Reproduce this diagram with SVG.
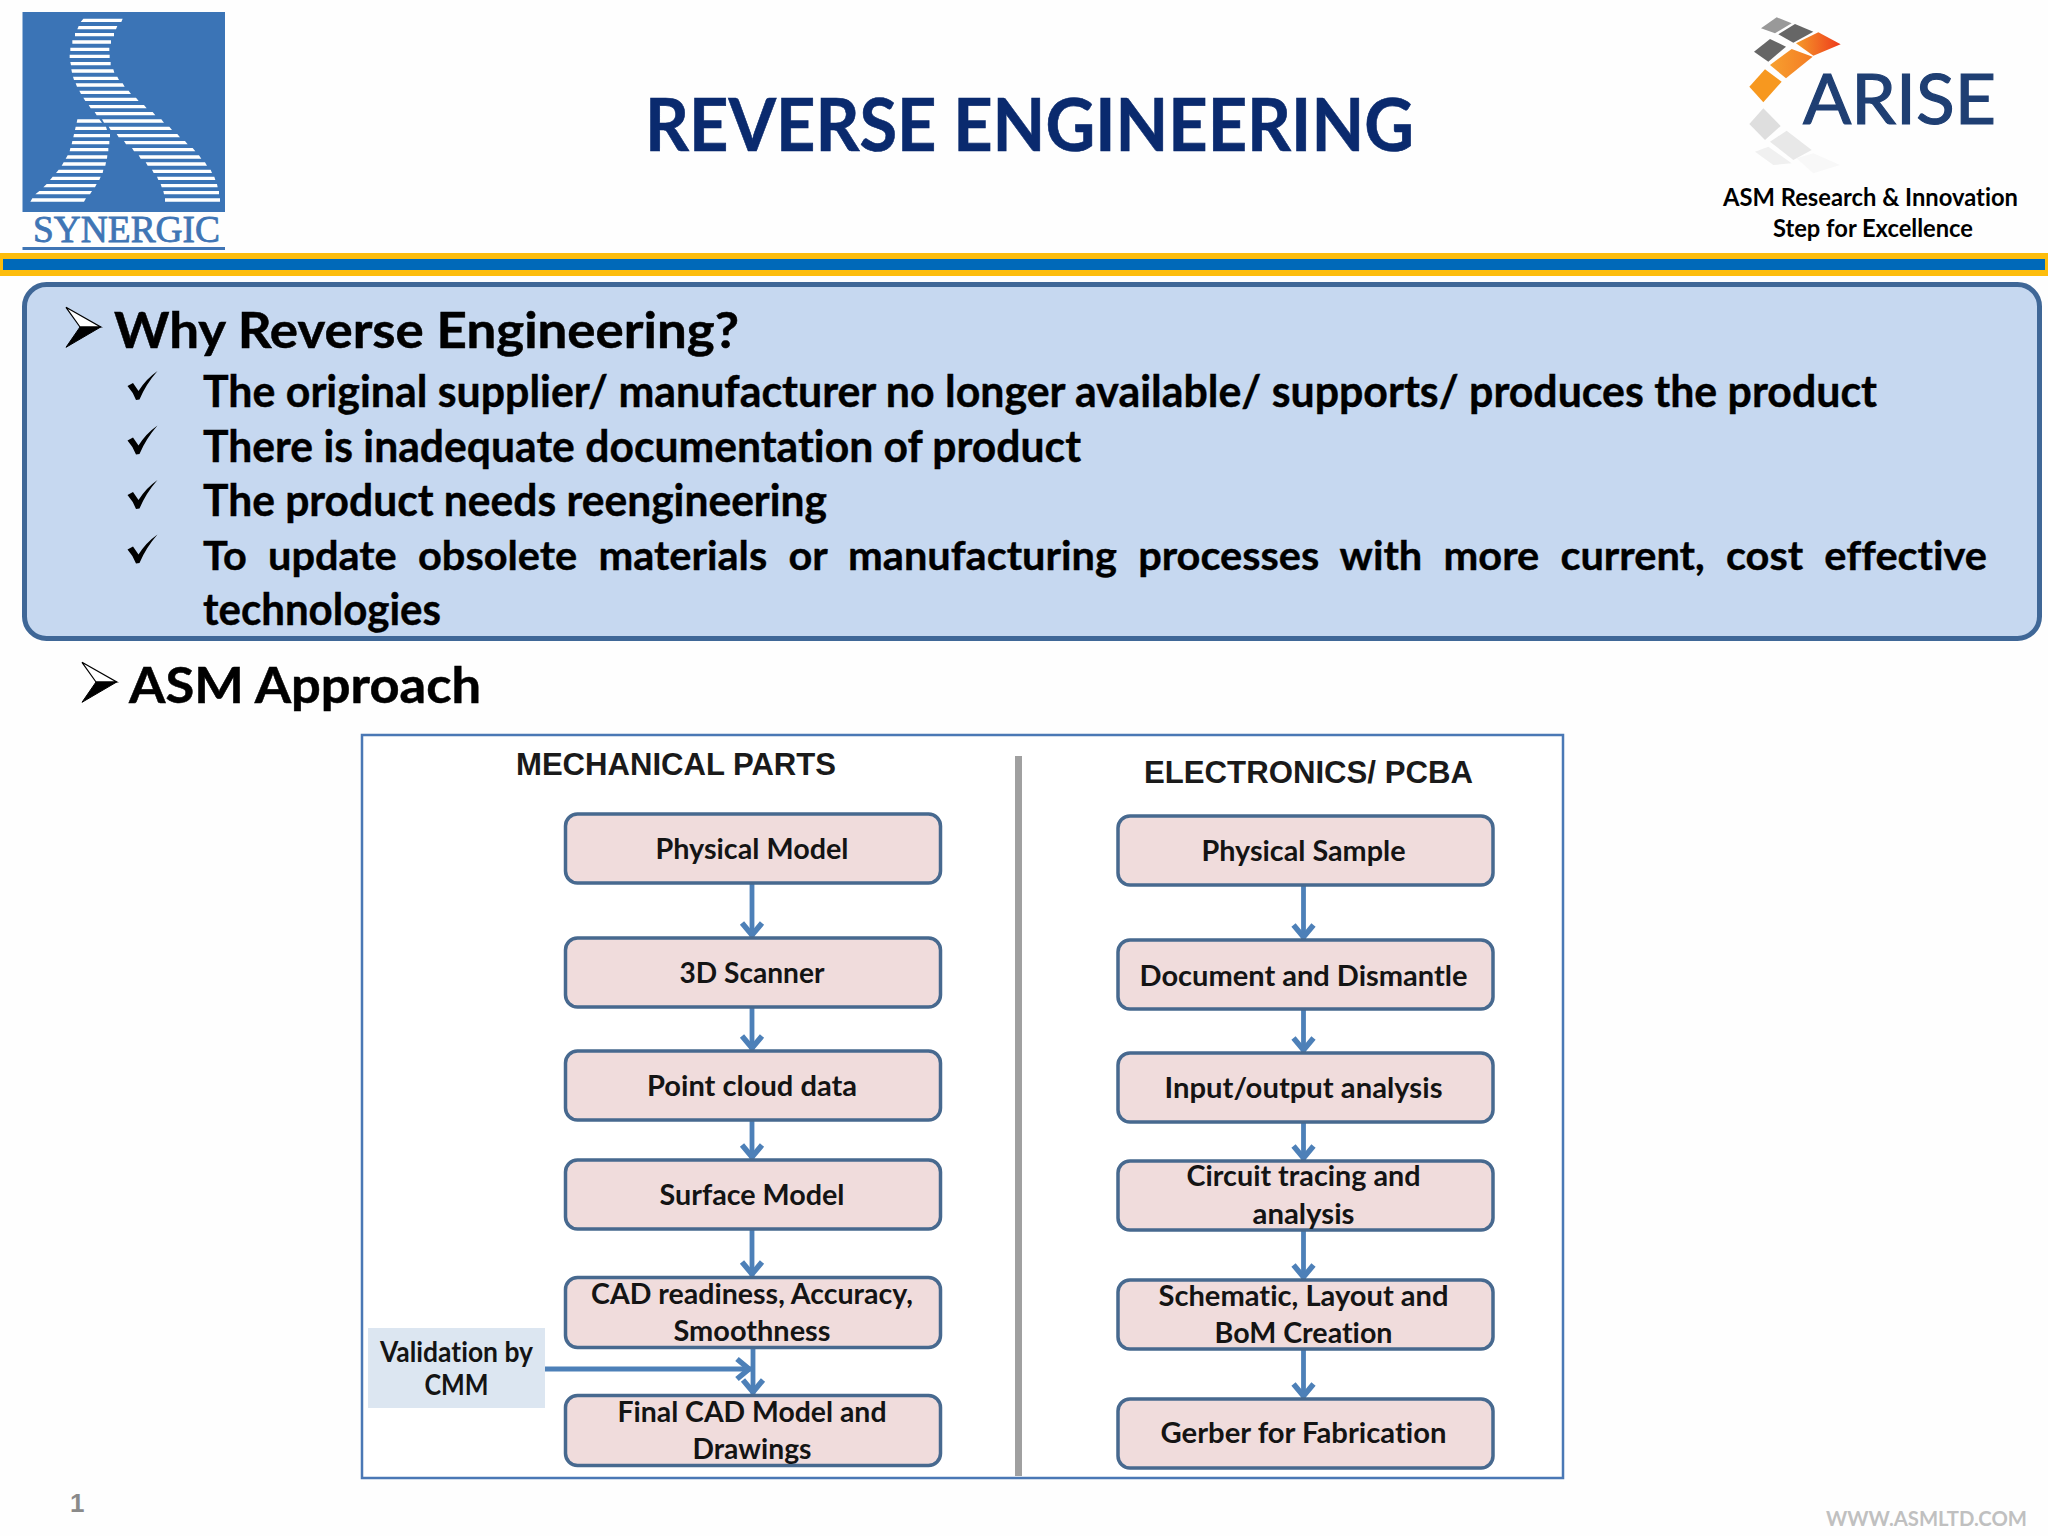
<svg xmlns="http://www.w3.org/2000/svg" width="2048" height="1536" viewBox="0 0 2048 1536">
<style>
text{font-family:Lato,"Liberation Sans",sans-serif;fill:#0d0d0d;font-variant-ligatures:none}
.h{font-weight:700;font-size:50px;fill:#000;stroke:#000;stroke-width:.5}
.b{font-weight:700;font-size:43px;fill:#000;stroke:#000;stroke-width:.4}
.n{font-weight:700;font-size:29px;text-anchor:middle;fill:#141414}
.s{font-weight:700;font-size:25px;text-anchor:middle;fill:#000}
.m{font-family:"Liberation Sans",Arial,sans-serif;font-weight:700;font-size:32px;fill:#1a1a1a}
.box rect{fill:#f0dcdc;stroke:#47698f;stroke-width:3.5}
.conn path{fill:none;stroke:#4d80b8;stroke-width:4.8}
</style>
<defs>
<marker id="a" markerUnits="userSpaceOnUse" markerWidth="26" markerHeight="28" refX="20" refY="14" orient="auto"><path d="M5 4L17 14L5 24" fill="none" stroke="#4d80b8" stroke-width="5.500"/></marker>
<g id="ar"><path d="M66 307.300L100.700 327L80 327Z" fill="#fff" stroke="#000" stroke-width="1.200"/><path d="M66 347.300L100.700 327L80 327Z" fill="#000" stroke="#000" stroke-width="1"/></g>
<path id="ck" d="M127.500 386L133 383L138.500 391Q146 379 157.500 371Q146 384 139.500 399.500L136 400Q133 392 127.500 386Z" fill="#000"/>
<linearGradient id="o1" x1="0" x2="1"><stop offset="0" stop-color="#f59a2a"/><stop offset="1" stop-color="#ee3a1c"/></linearGradient>
<linearGradient id="o2" x1="0" x2="1"><stop offset="0" stop-color="#f7a02f"/><stop offset="1" stop-color="#f47c24"/></linearGradient>
</defs>
<rect width="2048" height="1536" fill="#fefefe"/>

<g id="synergic-logo">
<rect x="22.500" y="12" width="202.500" height="200" fill="#3b74b6"/>
<g transform="scale(.33333)"><path fill="#fff" d="M250 56h118l-4 10h-122zM236 78h116l-4 10h-116zM225 99h117v10h-117zM217 121h116v10h-116zM211 143h117v10h-117zM209 164h120v10h-120zM211 186h121v10h-119zM214 208h126l3 10h-127zM219 230h133l5 10h-135zM227 250h141l6 10h-143zM238 272h148l7 10h-150zM250 293h158l8 10h-160zM266 315h166l8 10h-168zM284 336h174l8 10h-176zM306 358h178l8 10h-180zM326 380h182l8 10h-184zM350 402h182l8 10h-184zM372 423h183l8 10h-185zM396 444h182l8 10h-184zM416 466h181l7 10h-182zM437 487h178l6 10h-178zM456 509h176l4 10h-175zM471 530h172l3 10h-171zM482 552h169l2 10h-168zM490 573h167v10h-165zM495 595h165v10h-165zM232 358h66l8 10h-76zM227 380h91l3 10h-96zM222 402h108v10h-110zM217 423h111v10h-113zM211 444h114v10h-116zM203 466h119l-1 10h-124zM191 487h127l-2 10h-131zM176 509h134l-2 10h-140zM158 530h144l-4 10h-148zM140 552h150l-5 10h-155zM118 573h158l-6 10h-164zM97 595h161l-6 10h-161z"/></g>
<text x="33" y="242" textLength="187" lengthAdjust="spacingAndGlyphs" style="font-family:'Liberation Serif',serif;font-size:37px;fill:#3f75b5;stroke:#3f75b5;stroke-width:.8">SYNERGIC</text>
<rect x="22.500" y="247" width="202.500" height="3" fill="#3f75b5"/>
</g>

<g id="arise-logo">
<g transform="translate(1680 0) scale(.33333)">
<path fill="#999" d="M243 85L290 52L335 70L285 100Z"/>
<path fill="#666" d="M295 103L345 72L400 95L340 128Z"/>
<path fill="#666" d="M222 155L270 117L318 140L265 185Z"/>
<path fill="url(#o1)" d="M348 130L415 97L482 133L400 167Z"/>
<path fill="url(#o2)" d="M270 195L335 147L398 170L318 235Z"/>
<path fill="#f7981f" d="M208 260L255 208L305 245L250 307Z"/>
<path fill="#dedede" d="M208 372L250 325L302 378L255 420Z"/>
<path fill="#e8e8e8" d="M270 425L320 392L395 450L340 480Z"/>
<path fill="#f0f0f0" d="M225 455L265 440L335 490L280 495Z"/>
<path fill="#f8f8f8" d="M350 475L400 460L480 495L400 520Z"/>
</g>
<text x="1803" y="124" textLength="193" lengthAdjust="spacingAndGlyphs" style="font-size:69px;font-weight:400;fill:#1f3f73;stroke:#1f3f73;stroke-width:1.200">ARISE</text>
<text x="1870.500" y="206" class="s" textLength="295" lengthAdjust="spacingAndGlyphs">ASM Research &amp; Innovation</text>
<text x="1873" y="237" class="s" textLength="200" lengthAdjust="spacingAndGlyphs">Step for Excellence</text>
</g>

<text id="title" x="645" y="151" textLength="769" lengthAdjust="spacingAndGlyphs" style="font-weight:700;font-size:72px;fill:#0a2a6e;stroke:#0a2a6e;stroke-width:.6">REVERSE ENGINEERING</text>

<g id="rule"><rect y="253" width="2048" height="23" fill="#fdbd0d"/><rect x="3" y="259" width="2042" height="11" fill="#0069b9"/></g>

<g id="why-panel">
<rect x="24.500" y="284.500" width="2015" height="354" rx="22" fill="#c6d8f0" stroke="#3f6797" stroke-width="5"/>
<use href="#ar"/>
<text x="114" y="348" class="h" textLength="625" lengthAdjust="spacingAndGlyphs">Why Reverse Engineering?</text>
<use href="#ck"/><use href="#ck" y="54.500"/><use href="#ck" y="109"/><use href="#ck" y="163.500"/>
<text x="203" y="406.500" class="b" textLength="1674" lengthAdjust="spacingAndGlyphs">The original supplier/ manufacturer no longer available/ supports/ produces the product</text>
<text x="203" y="461.500" class="b" textLength="878" lengthAdjust="spacingAndGlyphs">There is inadequate documentation of product</text>
<text x="203" y="515.500" class="b" textLength="624" lengthAdjust="spacingAndGlyphs">The product needs reengineering</text>
<text x="203" y="570" class="b" style="font-size:41px;word-spacing:11px" textLength="1784" lengthAdjust="spacingAndGlyphs">To update obsolete materials or manufacturing processes with more current, cost effective</text>
<text x="203" y="624.500" class="b" textLength="238" lengthAdjust="spacingAndGlyphs">technologies</text>
</g>

<g id="asm-approach">
<use href="#ar" x="16" y="355"/>
<text x="129" y="702.500" class="h" textLength="352" lengthAdjust="spacingAndGlyphs">ASM Approach</text>
</g>

<g id="frame">
<rect x="362" y="735" width="1201" height="743" fill="#fff" stroke="#4a78b5" stroke-width="2.500"/>
<rect x="1015" y="756" width="7" height="720" fill="#a0a0a0"/>
<text x="516" y="775" class="m" textLength="320" lengthAdjust="spacingAndGlyphs">MECHANICAL PARTS</text>
<text x="1144" y="783" class="m" textLength="329" lengthAdjust="spacingAndGlyphs">ELECTRONICS/ PCBA</text>
</g>

<g id="connectors" class="conn">
<path marker-end="url(#a)" d="M752 883V938"/>
<path marker-end="url(#a)" d="M752 1007V1051"/>
<path marker-end="url(#a)" d="M752 1120V1160"/>
<path marker-end="url(#a)" d="M752 1229V1277"/>
<path marker-end="url(#a)" d="M753 1347V1395"/>
<path marker-end="url(#a)" d="M545 1369H752"/>
<path marker-end="url(#a)" d="M1303.500 885V940"/>
<path marker-end="url(#a)" d="M1303.500 1009V1053"/>
<path marker-end="url(#a)" d="M1303.500 1122V1161"/>
<path marker-end="url(#a)" d="M1303.500 1230V1280"/>
<path marker-end="url(#a)" d="M1303.500 1349V1399"/>
</g>

<g id="m1" class="box"><rect x="565.500" y="814" width="375" height="69" rx="12"/><text x="752" y="859" class="n" textLength="193" lengthAdjust="spacingAndGlyphs">Physical Model</text></g>
<g id="m2" class="box"><rect x="565.500" y="938" width="375" height="69" rx="12"/><text x="752" y="983" class="n" textLength="145" lengthAdjust="spacingAndGlyphs">3D Scanner</text></g>
<g id="m3" class="box"><rect x="565.500" y="1051" width="375" height="69" rx="12"/><text x="752" y="1096" class="n" textLength="210" lengthAdjust="spacingAndGlyphs">Point cloud data</text></g>
<g id="m4" class="box"><rect x="565.500" y="1160" width="375" height="69" rx="12"/><text x="752" y="1205" class="n" textLength="185" lengthAdjust="spacingAndGlyphs">Surface Model</text></g>
<g id="m5" class="box"><rect x="565.500" y="1277.500" width="375" height="70" rx="12"/><text x="752" y="1304" class="n" textLength="322" lengthAdjust="spacingAndGlyphs">CAD readiness, Accuracy,</text><text x="752" y="1341" class="n" textLength="157" lengthAdjust="spacingAndGlyphs">Smoothness</text></g>
<g id="m6" class="box"><rect x="565.500" y="1395.500" width="375" height="70" rx="12"/><text x="752" y="1422" class="n" textLength="269" lengthAdjust="spacingAndGlyphs">Final CAD Model and</text><text x="752" y="1459" class="n" textLength="119" lengthAdjust="spacingAndGlyphs">Drawings</text></g>
<g id="v"><rect x="368" y="1328" width="177" height="80" fill="#dce6f1"/><text x="456.500" y="1362" class="n" textLength="153" lengthAdjust="spacingAndGlyphs">Validation by</text><text x="456.500" y="1395" class="n" textLength="64" lengthAdjust="spacingAndGlyphs">CMM</text></g>

<g id="e1" class="box"><rect x="1118" y="816" width="375" height="69" rx="12"/><text x="1303.500" y="861" class="n" textLength="204" lengthAdjust="spacingAndGlyphs">Physical Sample</text></g>
<g id="e2" class="box"><rect x="1118" y="940" width="375" height="69" rx="12"/><text x="1303.500" y="986" class="n" textLength="328" lengthAdjust="spacingAndGlyphs">Document and Dismantle</text></g>
<g id="e3" class="box"><rect x="1118" y="1053" width="375" height="69" rx="12"/><text x="1303.500" y="1098" class="n" textLength="278" lengthAdjust="spacingAndGlyphs">Input/output analysis</text></g>
<g id="e4" class="box"><rect x="1118" y="1161" width="375" height="69" rx="12"/><text x="1303.500" y="1186" class="n" textLength="234" lengthAdjust="spacingAndGlyphs">Circuit tracing and</text><text x="1303.500" y="1224" class="n" textLength="102" lengthAdjust="spacingAndGlyphs">analysis</text></g>
<g id="e5" class="box"><rect x="1118" y="1280" width="375" height="69" rx="12"/><text x="1303.500" y="1306" class="n" textLength="290" lengthAdjust="spacingAndGlyphs">Schematic, Layout and</text><text x="1303.500" y="1343" class="n" textLength="178" lengthAdjust="spacingAndGlyphs">BoM Creation</text></g>
<g id="e6" class="box"><rect x="1118" y="1399" width="375" height="69" rx="12"/><text x="1303.500" y="1443" class="n" textLength="286" lengthAdjust="spacingAndGlyphs">Gerber for Fabrication</text></g>

<text id="page" x="70" y="1512" style="font-family:'Liberation Sans',sans-serif;font-weight:700;font-size:26px;fill:#8a8a8a">1</text>
<text id="web" x="1826" y="1526" textLength="201" lengthAdjust="spacingAndGlyphs" style="font-weight:700;font-size:21px;fill:#c0c0c0">WWW.ASMLTD.COM</text>
</svg>
